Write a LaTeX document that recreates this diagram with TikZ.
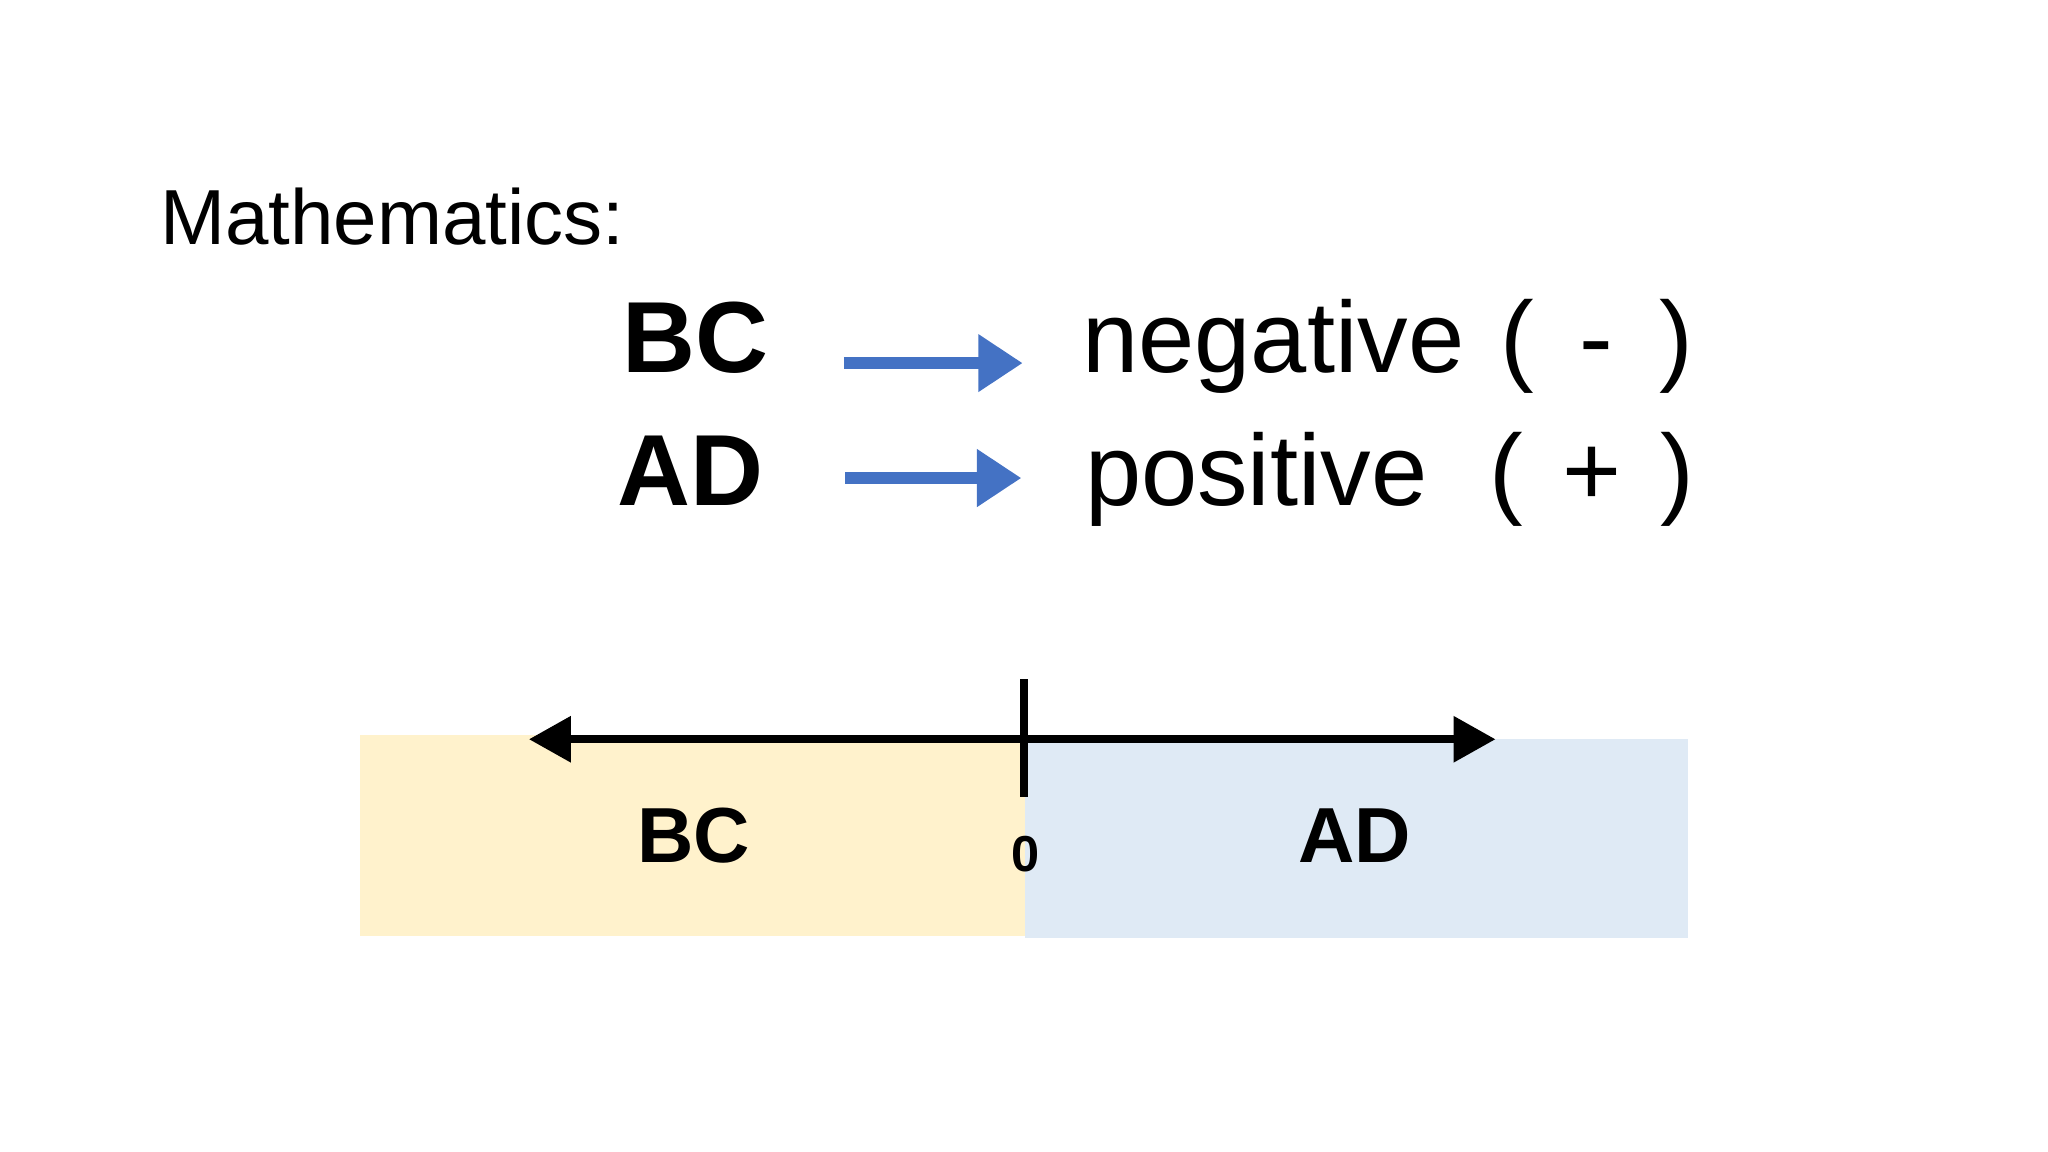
\documentclass[tikz,border=0pt]{standalone}
\usepackage{fontspec}
\setmainfont{Liberation Sans}
\usetikzlibrary{arrows.meta}
\definecolor{bluearr}{HTML}{4472C4}
\definecolor{ylw}{HTML}{FFF2CC}
\definecolor{lblue}{HTML}{DFEAF5}
\tikzset{
  txt/.style={anchor=base west,inner sep=0pt,font=\fontsize{17}{20}\selectfont},
  big/.style={anchor=base west,inner sep=0pt,font=\fontsize{22}{26}\selectfont},
  bigb/.style={big,font=\fontsize{22}{26}\selectfont\bfseries},
  lab/.style={anchor=base,inner sep=0pt,font=\fontsize{17}{20}\selectfont\bfseries},
  barr/.style={bluearr,line width=2.6pt,-{Triangle[length=0.34cm,width=0.42cm]}},
  axis/.style={black,line width=1.7pt}
}
\begin{document}
\begin{tikzpicture}[x=0.01cm,y=-0.01cm]
\useasboundingbox (0,0) rectangle (1568,882);
\fill[ylw] (276,563) rectangle (785,717);
\fill[lblue] (785,566) rectangle (1292,718);
\node[txt] (m) at (122,187) {Mathematics:};
\node[bigb] (bc) at (476,285) {BC};
\node[bigb] (ad) at (472,387) {AD};
\node[big] (neg) at (828,285) {negative};
\node[big] (negs) at (1148,285) {(\hspace{0.35cm}-\hspace{0.35cm})};
\node[big] (pos) at (830,387) {positive};
\node[big] (poss) at (1140,387) {(\hspace{0.3cm}+\hspace{0.3cm})};
\coordinate (a1s) at (646,278); \coordinate (a1e) at (783,278);
\coordinate (a2s) at (647,366); \coordinate (a2e) at (782,366);
\draw[barr] (a1s) -- (a1e);
\draw[barr] (a2s) -- (a2e);
\coordinate (l) at (405,566); \coordinate (r) at (1145,566);
\coordinate (z) at (784,566);
\draw[axis,{Triangle[length=0.32cm,width=0.34cm]}-{Triangle[length=0.32cm,width=0.34cm]}] (l) -- (r);
\draw[axis] (784,520) -- (784,610);
\node[lab] (bcl) at (531,660) {BC};
\node[lab] (adl) at (1037,660) {AD};
\node[anchor=base,inner sep=0pt,font=\fontsize{11}{13}\selectfont\bfseries] (zero) at (785,667) {0};
\end{tikzpicture}
\end{document}
